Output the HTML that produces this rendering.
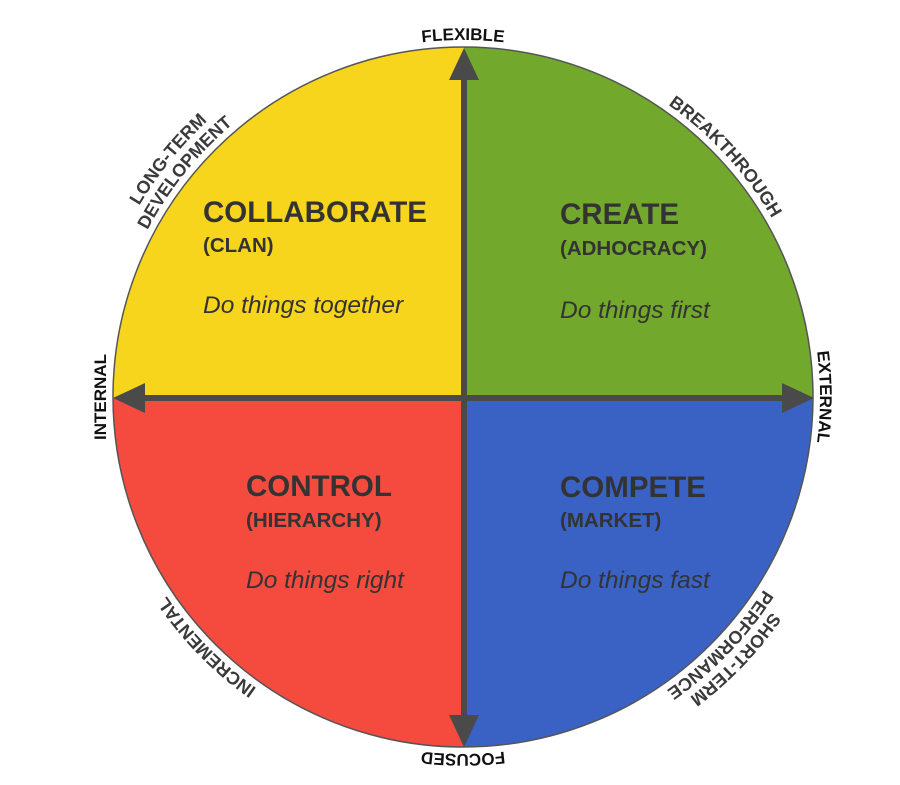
<!DOCTYPE html>
<html><head><style>body{margin:0;background:#fff}svg{display:block}</style></head>
<body>
<svg width="900" height="785" viewBox="0 0 900 785" xmlns="http://www.w3.org/2000/svg" font-family="Liberation Sans, sans-serif">
<defs>
<path id="c1" d="M 106 397 A 357 357 0 1 1 820 397 A 357 357 0 1 1 106 397"/>
<path id="c2" d="M 87 397 A 376 376 0 1 1 839 397 A 376 376 0 1 1 87 397"/>
<clipPath id="cc"><circle cx="463" cy="397" r="350"/></clipPath>
</defs>
<g clip-path="url(#cc)">
<rect x="100" y="40" width="364" height="358" fill="#f7d51d"/>
<rect x="464" y="40" width="360" height="358" fill="#72a82c"/>
<rect x="100" y="398" width="364" height="360" fill="#f44b3e"/>
<rect x="464" y="398" width="360" height="360" fill="#3a62c4"/>
</g>
<circle cx="463" cy="397" r="350" fill="none" stroke="#555" stroke-width="1.5"/>
<g stroke="#4a4a4a" stroke-width="6">
<line x1="464" y1="75" x2="464" y2="720"/>
<line x1="140" y1="398" x2="788" y2="398"/>
</g>
<g fill="#4a4a4a">
<polygon points="464,48 449,80 479,80"/>
<polygon points="464,747 449,715 479,715"/>
<polygon points="113,398 145,383 145,413"/>
<polygon points="814,398 782,383 782,413"/>
</g>
<g font-weight="bold" fill="#111" font-size="17" text-anchor="middle">
<text><textPath href="#c1" startOffset="25%">FLEXIBLE</textPath></text>
<text transform="translate(106,397) rotate(-90)" x="0" y="0">INTERNAL</text>
<text><textPath href="#c1" startOffset="50%">EXTERNAL</textPath></text>
<text><textPath href="#c1" startOffset="75%">FOCUSED</textPath></text>
</g>
<g font-weight="bold" fill="#3a3a3a" font-size="18" text-anchor="middle">
<text><textPath href="#c2" startOffset="10.8%">LONG-TERM</textPath></text>
<text><textPath href="#c1" startOffset="10.8%">DEVELOPMENT</textPath></text>
<text><textPath href="#c1" startOffset="38.2%">BREAKTHROUGH</textPath></text>
<text><textPath href="#c2" startOffset="62.2%">SHORT-TERM</textPath></text>
<text><textPath href="#c1" startOffset="62.2%">PERFORMANCE</textPath></text>
<text><textPath href="#c1" startOffset="87.7%">INCREMENTAL</textPath></text>
</g>
<g fill="#333">
<text x="203" y="222" font-size="29.5" font-weight="bold">COLLABORATE</text>
<text x="203" y="252" font-size="20.5" font-weight="bold">(CLAN)</text>
<text x="203" y="313" font-size="24.5" font-style="italic">Do things together</text>
<text x="560" y="224" font-size="29.5" font-weight="bold">CREATE</text>
<text x="560" y="255" font-size="20.5" font-weight="bold">(ADHOCRACY)</text>
<text x="560" y="318" font-size="24.5" font-style="italic">Do things first</text>
<text x="246" y="496" font-size="29.5" font-weight="bold">CONTROL</text>
<text x="246" y="527" font-size="20.5" font-weight="bold">(HIERARCHY)</text>
<text x="246" y="588" font-size="24.5" font-style="italic">Do things right</text>
<text x="560" y="497" font-size="29.5" font-weight="bold">COMPETE</text>
<text x="560" y="527" font-size="20.5" font-weight="bold">(MARKET)</text>
<text x="560" y="588" font-size="24.5" font-style="italic">Do things fast</text>
</g>
</svg>
</body></html>
